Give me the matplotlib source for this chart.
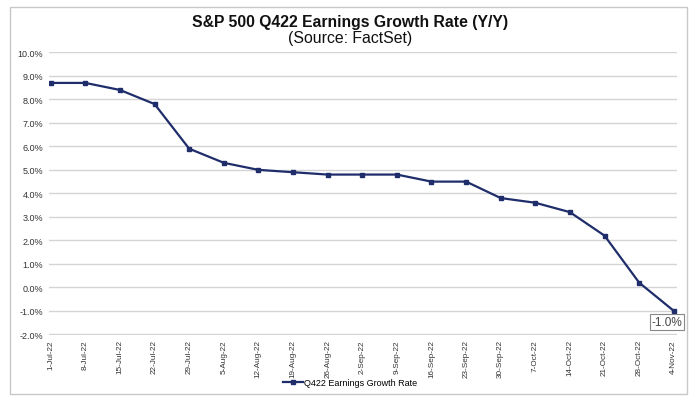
import matplotlib.pyplot as plt
from matplotlib.patches import Rectangle

plt.rcParams['font.family'] = ['Liberation Sans', 'DejaVu Sans']

dates = ['1-Jul-22', '8-Jul-22', '15-Jul-22', '22-Jul-22', '29-Jul-22', '5-Aug-22',
         '12-Aug-22', '19-Aug-22', '26-Aug-22', '2-Sep-22', '9-Sep-22', '16-Sep-22',
         '23-Sep-22', '30-Sep-22', '7-Oct-22', '14-Oct-22', '21-Oct-22', '28-Oct-22',
         '4-Nov-22']
growth = [8.7, 8.7, 8.4, 7.8, 5.9, 5.3, 5.0, 4.9, 4.8, 4.8, 4.8, 4.5,
          4.5, 3.8, 3.6, 3.2, 2.2, 0.2, -1.0]
yticks = list(range(-2, 11))

navy = '#1f2d6b'

fig = plt.figure(figsize=(7, 4.02), dpi=100)
fig.patches.append(Rectangle((10 / 700, 7 / 402), 677 / 700, 387 / 402,
                             transform=fig.transFigure, fill=False,
                             edgecolor='#c8c8c8', linewidth=1.0))

ax = fig.add_axes([0.07, 0.164, 0.897, 0.705])
x = list(range(len(dates)))
ax.plot(x, growth, color=navy, linewidth=1.6, marker='s', markersize=3.5,
        label='Q422 Earnings Growth Rate')

ax.set_xlim(-0.05, len(dates) - 1 + 0.09)
ax.set_ylim(-2.03, 10.03)
ax.set_yticks(yticks)
ax.set_yticklabels([f'{v:.1f}%' for v in yticks], fontsize=6.5, color='#333333')
ax.set_xticks(x)
ax.set_xticklabels(dates, rotation=90, fontsize=5.9, color='#333333')
ax.tick_params(length=0, pad=4)
ax.tick_params(axis='x', pad=3)
ax.grid(axis='y', color='#d4d4d4', linewidth=1.0)
ax.set_axisbelow(True)
for s in ax.spines.values():
    s.set_visible(False)

ax.annotate(f'{growth[-1]:.1f}%', (x[-1], growth[-1]), xytext=(-5, -8),
            textcoords='offset points', ha='center', va='center', fontsize=8.5,
            color='#444444',
            bbox=dict(boxstyle='square,pad=0.15', facecolor='white',
                      edgecolor='#888888', linewidth=0.8))

fig.text(0.5, 1 - 22 / 402, 'S&P 500 Q422 Earnings Growth Rate (Y/Y)',
         ha='center', va='center', fontsize=11.3, fontweight='bold', color='#111111')
fig.text(0.5, 1 - 39 / 402, '(Source: FactSet)', ha='center', va='center',
         fontsize=11.4, color='#111111')

fig.legend(loc='center', bbox_to_anchor=(0.5, 1 - 384 / 402), frameon=False,
           fontsize=6.5, handlelength=2.2, handletextpad=0.1)

fig.savefig('out.png', dpi=100)
